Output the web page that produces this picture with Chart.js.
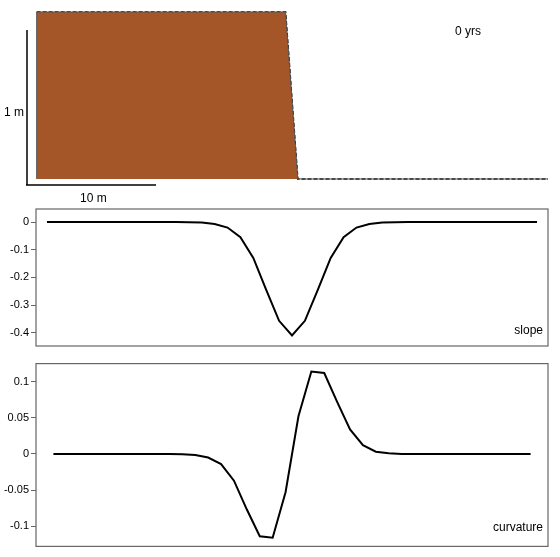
<!DOCTYPE html>
<html>
<head>
<meta charset="utf-8">
<script src="https://cdn.jsdelivr.net/npm/chart.js@4"></script>
<style>
body { margin:0; background:#fff; width:560px; height:557px; position:relative; overflow:hidden; }
canvas { position:absolute; left:0; }
</style>
</head>
<body>
<canvas id="topc" style="top:0" width="560" height="205"></canvas>
<canvas id="slopec" style="top:200px" width="560" height="155"></canvas>
<canvas id="curvc" style="top:355px" width="560" height="200"></canvas>
<script>
// profile (distance m, elevation m)
const profileX = [0.2, 0.2, 19.5, 20.45, 39.85];
const profileZ = [0, 1, 1, 0, 0];

const slopeX = [1,2,3,4,5,6,7,8,9,10,11,12,13,14,15,16,17,18,19,20,21,22,23,24,25,26,27,28,29,30,31,32,33,34,35,36,37,38,39];
const slopeY = [0,0,0,0,0,0,0,0,0,0,0,-0.001,-0.002,-0.007,-0.02,-0.055,-0.13,-0.245,-0.357,-0.41,-0.357,-0.245,-0.13,-0.055,-0.02,-0.007,-0.002,-0.001,0,0,0,0,0,0,0,0,0,0,0];

const curvX = [1.5,2.5,3.5,4.5,5.5,6.5,7.5,8.5,9.5,10.5,11.5,12.5,13.5,14.5,15.5,16.5,17.5,18.5,19.5,20.5,21.5,22.5,23.5,24.5,25.5,26.5,27.5,28.5,29.5,30.5,31.5,32.5,33.5,34.5,35.5,36.5,37.5,38.5];
const curvY = [0,0,0,0,0,0,0,0,0,0,-0.0005,-0.0015,-0.005,-0.014,-0.037,-0.077,-0.114,-0.116,-0.053,0.052,0.114,0.112,0.072,0.034,0.012,0.003,0.001,0,0,0,0,0,0,0,0,0,0,0];

const slopeTicks = [0, -0.1, -0.2, -0.3, -0.4];
const curvTicks = [0.1, 0.05, 0, -0.05, -0.1];

const FONT = 'Liberation Sans, Arial, sans-serif';
const X_MIN = 0.15, X_MAX = 39.85;
const pts = (xs, ys) => xs.map((x, i) => ({x: x, y: ys[i]}));

const boxPlugin = {
    id: 'box',
    afterDraw(chart, args, opts) {
        const c = chart.ctx, a = chart.chartArea;
        c.save();
        if (opts.frame) { c.strokeStyle = '#666'; c.lineWidth = 1.2; c.strokeRect(a.left, a.top, a.right - a.left, a.bottom - a.top); }
        c.fillStyle = '#000'; c.font = '12px ' + FONT;
        (opts.texts || []).forEach(t => { c.textAlign = t.align || 'left'; c.fillText(t.s, t.x, t.y); });
        (opts.lines || []).forEach(l => { c.strokeStyle = '#000'; c.lineWidth = 1.5; c.beginPath(); c.moveTo(l[0], l[1]); c.lineTo(l[2], l[3]); c.stroke(); });
        c.restore();
    }
};

new Chart(document.getElementById('topc'), {
    type: 'line',
    data: { datasets: [
        { data: pts(profileX, profileZ), fill: 'origin', backgroundColor: '#a55628', borderColor: '#555', borderWidth: 1, pointRadius: 0, tension: 0 },
        { data: pts(profileX.slice(1), profileZ.slice(1)), fill: false, borderColor: '#000', borderWidth: 1.6, borderDash: [4, 2], pointRadius: 0, tension: 0 }
    ]},
    options: {
        responsive: false, animation: false, events: [],
        layout: { padding: { left: 36, right: 12, top: 0, bottom: 0 } },
        plugins: { legend: { display: false }, tooltip: { enabled: false },
            box: { texts: [{s: '0 yrs', x: 455, y: 35}, {s: '1 m', x: 4, y: 116}, {s: '10 m', x: 80, y: 202}],
                   lines: [[27, 30, 27, 185], [26, 185, 156, 185]] } },
        scales: {
            x: { type: 'linear', min: X_MIN, max: X_MAX, display: false },
            y: { min: -0.156, max: 1.072, display: false }
        }
    },
    plugins: [boxPlugin]
});

function profileChart(id, xs, ys, yMin, yMax, ticks, label, padTop, padBottom, labelY) {
    new Chart(document.getElementById(id), {
        type: 'line',
        data: { datasets: [{ data: pts(xs, ys), borderColor: '#000', borderWidth: 2, pointRadius: 0, tension: 0, fill: false }] },
        options: {
            responsive: false, animation: false, events: [],
            layout: { padding: { left: 0, right: 12, top: padTop, bottom: padBottom } },
            plugins: { legend: { display: false }, tooltip: { enabled: false },
                box: { frame: true, texts: [{s: label, x: 543, y: labelY, align: 'right'}] } },
            scales: {
                x: { type: 'linear', min: X_MIN, max: X_MAX, display: false },
                y: {
                    min: yMin, max: yMax,
                    afterBuildTicks: s => { s.ticks = ticks.map(v => ({value: v})); },
                    afterFit: s => { s.width = 36; },
                    border: { display: false },
                    grid: { display: true, drawOnChartArea: false, drawTicks: true, tickLength: 5, color: '#666' },
                    ticks: { color: '#000', padding: 2, font: { size: 11, family: FONT }, callback: v => String(v) }
                }
            }
        },
        plugins: [boxPlugin]
    });
}

profileChart('slopec', slopeX, slopeY, -0.448, 0.047, slopeTicks, 'slope', 9, 9, 134);
profileChart('curvc', curvX, curvY, -0.128, 0.125, curvTicks, 'curvature', 6, 8, 176);
</script>
</body>
</html>
